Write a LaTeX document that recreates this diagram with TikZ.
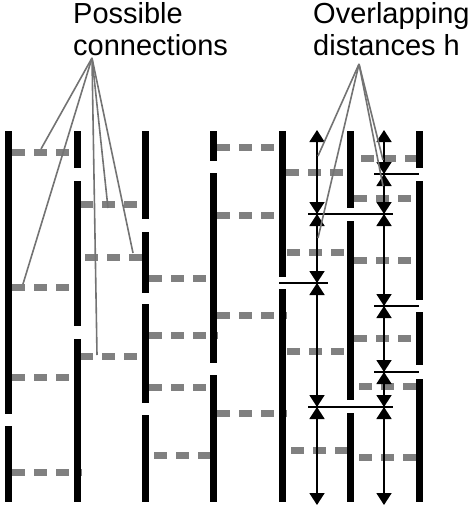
\documentclass[tikz,border=0pt]{standalone}
\usepackage{fontspec}
\setmainfont{Liberation Sans}
\usetikzlibrary{arrows.meta}

\begin{document}
\begin{tikzpicture}[x=1pt, y=-1pt,
  bar/.style={line width=7pt},
  link/.style={line width=7pt, black!50, dash pattern=on 13pt off 9pt},
  pointer/.style={line width=1.6pt, black!55},
  dist/.style={line width=1.8pt, {Triangle[width=15pt,length=12pt]}-{Triangle[width=15pt,length=12pt]}},
  tick/.style={line width=1.8pt},
  caption/.style={font=\fontsize{29}{32}\selectfont, align=left, inner sep=0pt, anchor=base west}]

\useasboundingbox (0,0) rectangle (474,506);

% labels
\node[caption] (poss) at (73,55) {Possible\\connections};
\node[caption] (over) at (313,55) {Overlapping\\distances h};

% grey dashed connections: y / from / to
\foreach \ly/\xa/\xb in {152/12/69, 287/12/69, 377/12/69, 472/12/82,
    204/80/138, 257/85/142, 356/80/138,
    278/149/206, 335/149/218, 387/149/206, 455/154/210,
    147/217/277, 215/217/274, 315/217/287, 413/217/287,
    172/286/343, 252/287/344, 351/287/347, 450/291/347,
    158/361/416, 198/354/411, 260/354/423, 338/354/411, 386/359/416, 457/359/416}
  \draw[link] (\xa,\ly) -- (\xb,\ly);

% black wires: x / top / bottom
\foreach \wx/\ya/\yb in {8/131/414, 8/426/502,
    77/131/168, 77/181/326, 77/339/502,
    145/131/219, 145/232/293, 145/304/403, 145/415/502,
    213.5/131/161, 213.5/173/363, 213.5/375/502,
    282/131/277, 282/289/502,
    350.5/131/208, 350.5/221/400, 350.5/413/502,
    419/131/168, 419/181/300, 419/312/365, 419/379/502}
  \draw[bar] (\wx,\ya) -- (\wx,\yb);

% distance markers
\coordinate (a0) at (317,130);
\coordinate (a1) at (317,214);
\coordinate (a2) at (317,283);
\coordinate (a3) at (317,407);
\coordinate (a4) at (317,505);
\coordinate (b0) at (384,130);
\coordinate (b1) at (384,174);
\coordinate (b2) at (384,214);
\coordinate (b3) at (384,306);
\coordinate (b4) at (384,372);
\coordinate (b5) at (384,407);
\coordinate (b6) at (384,505);

\foreach \p/\q in {a0/a1, a1/a2, a2/a3, a3/a4}
  \draw[dist] (\p) -- (\q);
\foreach \p/\q in {b0/b1, b1/b2, b2/b3, b3/b4, b4/b5, b5/b6}
  \draw[dist] (\p) -- (\q);

\draw[tick] ([xshift=-9pt]a1) -- ([xshift=9pt]b2);
\draw[tick] ([xshift=-38pt]a2) -- ([xshift=11pt]a2);
\draw[tick] ([xshift=-9pt]a3) -- ([xshift=9pt]b5);
\foreach \t in {b1, b3, b4}
  \draw[tick] ([xshift=-10pt]\t) -- ([xshift=35pt]\t);

% pointers from the labels
\coordinate (pc) at (92,58);
\foreach \ex/\ey [count=\i] in {41/149, 23/284, 97/355, 108/208, 133/253} {
  \coordinate (pe\i) at (\ex,\ey);
  \draw[pointer] (pc) -- (pe\i);
}
\coordinate (oc) at (359,64);
\foreach \ex/\ey [count=\i] in {318/156, 318/238, 383/160, 383/186} {
  \coordinate (oe\i) at (\ex,\ey);
  \draw[pointer] (oc) -- (oe\i);
}

\end{tikzpicture}
\end{document}
